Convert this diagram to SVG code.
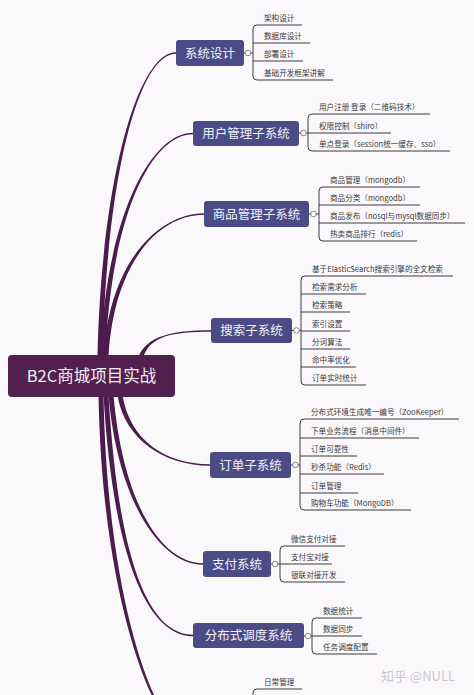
<svg xmlns="http://www.w3.org/2000/svg" width="474" height="695" viewBox="0 0 474 695">
<style>
.bg{fill:#fbf8fb}
.root rect{fill:#51204f}
.root text{fill:#f4eef4;font-family:"Noto Sans CJK SC","Noto Sans",sans-serif;font-size:16.5px;text-anchor:middle}
.br rect{fill:#4b4c86}
.br text.t{fill:#f2f2f8;font-family:"Noto Sans CJK SC","Noto Sans",sans-serif;font-size:12.5px;text-anchor:middle}
.br circle{fill:#ffffff;stroke:#6a6a6a;stroke-width:0.8}
.br path,.br line{fill:none;stroke:#3c3c3c;stroke-width:1}
.lf{fill:#383838;font-family:"Noto Sans CJK SC","Noto Sans",sans-serif;font-size:7.6px}
.con path{fill:#4a1d4c}
.wm{fill:#c9c9cc;font-family:"Noto Sans CJK SC","Noto Sans",sans-serif;font-size:13px}
</style>
<rect class="bg" x="0" y="0" width="474" height="695"/>

<g id="connectors" class="con">
<path d="M97.5,356 C101.5,180 138,52.2 176,52.2 L176,53.8 C138,53.8 106.5,180 102.5,356 Z"/>
<path d="M100.5,356 C105.5,220 150,132.7 193,132.7 L193,134.3 C150,134.3 110.5,220 105.5,356 Z"/>
<path d="M103.5,356 C109.5,260 160,213.2 204,213.2 L204,214.8 C160,214.8 114.5,260 108.5,356 Z"/>
<path d="M138,358 C146,336 172,330.2 211,330.2 L211,331.8 C172,331.8 150,336 143,358 Z"/>
<path d="M117.5,395 C124.5,440 165,465.8 210,465.8 L210,464.2 C165,464.2 129.5,440 122.5,395 Z"/>
<path d="M108.5,395 C117.5,500 160,564.8 203,564.8 L203,563.2 C160,563.2 122.5,500 113.5,395 Z"/>
<path d="M103.5,395 C113.5,565 150,636.3 193,636.3 L193,634.7 C150,634.7 118.5,565 108.5,395 Z"/>
<path d="M98.5,395 C101.5,560 134,660 154,700 L156.5,700 C136.5,660 106.5,560 103.5,395 Z"/>
</g>

<g id="root" class="root">
<rect x="8" y="355" width="167" height="42" rx="4"/>
<text x="91.5" y="382">B2C商城项目实战</text>
</g>

<g id="n1" class="br">
<rect x="176" y="40" width="68" height="26" rx="3"/>
<text class="t" x="210" y="57.5">系统设计</text>
<line x1="244" y1="53" x2="245.2" y2="53"/>
<circle cx="248" cy="53" r="2.8"/>
<line x1="250.8" y1="53" x2="253" y2="53"/>
<path d="M257,25 Q253,25 253,29 L253,76 Q253,80 257,80"/>
<line x1="257" y1="25" x2="302" y2="25"/>
<line x1="253" y1="43" x2="310" y2="43"/>
<line x1="253" y1="61" x2="303" y2="61"/>
<line x1="257" y1="80" x2="333" y2="80"/>
<text class="lf" x="264" y="20.5">架构设计</text>
<text class="lf" x="264" y="38.5">数据库设计</text>
<text class="lf" x="264" y="56.5">部署设计</text>
<text class="lf" x="264" y="75.5">基础开发框架讲解</text>
</g>

<g id="n2" class="br">
<rect x="193" y="121" width="106" height="25" rx="3"/>
<text class="t" x="246" y="138">用户管理子系统</text>
<circle cx="303.5" cy="133" r="2.8"/>
<line x1="299" y1="133" x2="300.7" y2="133"/>
<line x1="306.3" y1="133" x2="308" y2="133"/>
<path d="M312,114 Q308,114 308,118 L308,147 Q308,151 312,151"/>
<line x1="312" y1="114" x2="430" y2="114"/>
<line x1="308" y1="133" x2="391" y2="133"/>
<line x1="312" y1="151" x2="450" y2="151"/>
<text class="lf" x="319" y="109.5">用户注册 登录（二维码技术）</text>
<text class="lf" x="319" y="128.5">权限控制（shiro）</text>
<text class="lf" x="319" y="146.5">单点登录（session统一缓存、sso）</text>
</g>

<g id="n3" class="br">
<rect x="204" y="201" width="105" height="26" rx="3"/>
<text class="t" x="256.5" y="218.5">商品管理子系统</text>
<circle cx="313.5" cy="214" r="2.8"/>
<line x1="309" y1="214" x2="310.7" y2="214"/>
<line x1="316.3" y1="214" x2="319" y2="214"/>
<path d="M323,187 Q319,187 319,191 L319,237 Q319,241 323,241"/>
<line x1="323" y1="187" x2="420" y2="187"/>
<line x1="319" y1="205" x2="420" y2="205"/>
<line x1="319" y1="223" x2="465" y2="223"/>
<line x1="323" y1="241" x2="417" y2="241"/>
<text class="lf" x="330" y="182.5">商品管理（mongodb）</text>
<text class="lf" x="330" y="200.5">商品分类（mongodb）</text>
<text class="lf" x="330" y="218.5">商品发布（nosql与mysql数据同步）</text>
<text class="lf" x="330" y="236.5">热卖商品排行（redis）</text>
</g>

<g id="n4" class="br">
<rect x="211" y="318" width="81" height="25" rx="3"/>
<text class="t" x="251.5" y="335">搜索子系统</text>
<circle cx="296.5" cy="330.5" r="2.8"/>
<line x1="292" y1="330.5" x2="293.7" y2="330.5"/>
<line x1="299.3" y1="330.5" x2="301" y2="330.5"/>
<path d="M305,276 Q301,276 301,280 L301,381 Q301,385 305,385"/>
<line x1="305" y1="276" x2="453" y2="276"/>
<line x1="301" y1="294" x2="366" y2="294"/>
<line x1="301" y1="312" x2="350" y2="312"/>
<line x1="301" y1="331" x2="350" y2="331"/>
<line x1="301" y1="349" x2="350" y2="349"/>
<line x1="301" y1="367" x2="356" y2="367"/>
<line x1="305" y1="385" x2="366" y2="385"/>
<text class="lf" x="312" y="271.5">基于ElasticSearch搜索引擎的全文检索</text>
<text class="lf" x="312" y="289.5">检索需求分析</text>
<text class="lf" x="312" y="307.5">检索策略</text>
<text class="lf" x="312" y="326.5">索引设置</text>
<text class="lf" x="312" y="344.5">分词算法</text>
<text class="lf" x="312" y="362.5">命中率优化</text>
<text class="lf" x="312" y="380.5">订单实时统计</text>
</g>

<g id="n5" class="br">
<rect x="210" y="452" width="81" height="26" rx="3"/>
<text class="t" x="250.5" y="469.5">订单子系统</text>
<circle cx="295.5" cy="465" r="2.8"/>
<line x1="291" y1="465" x2="292.7" y2="465"/>
<line x1="298.3" y1="465" x2="300" y2="465"/>
<path d="M304,419 Q300,419 300,423 L300,506 Q300,510 304,510"/>
<line x1="304" y1="419" x2="459" y2="419"/>
<line x1="300" y1="438" x2="419" y2="438"/>
<line x1="300" y1="456" x2="357" y2="456"/>
<line x1="300" y1="474" x2="384" y2="474"/>
<line x1="300" y1="493" x2="358" y2="493"/>
<line x1="304" y1="510" x2="411" y2="510"/>
<text class="lf" x="311" y="414.5">分布式环境生成唯一编号（ZooKeeper）</text>
<text class="lf" x="311" y="433.5">下单业务流程（消息中间件）</text>
<text class="lf" x="311" y="451.5">订单可靠性</text>
<text class="lf" x="311" y="469.5">秒杀功能（Redis）</text>
<text class="lf" x="311" y="488.5">订单管理</text>
<text class="lf" x="311" y="505.5">购物车功能（MongoDB）</text>
</g>

<g id="n6" class="br">
<rect x="203" y="551" width="68" height="26" rx="3"/>
<text class="t" x="237" y="568.5">支付系统</text>
<circle cx="275" cy="564" r="2.8"/>
<line x1="271" y1="564" x2="272.2" y2="564"/>
<line x1="277.8" y1="564" x2="280" y2="564"/>
<path d="M284,546 Q280,546 280,550 L280,578 Q280,582 284,582"/>
<line x1="284" y1="546" x2="345" y2="546"/>
<line x1="280" y1="564" x2="332" y2="564"/>
<line x1="284" y1="582" x2="345" y2="582"/>
<text class="lf" x="291" y="541.5">微信支付对接</text>
<text class="lf" x="291" y="559.5">支付宝对接</text>
<text class="lf" x="291" y="577.5">银联对接开发</text>
</g>

<g id="n7" class="br">
<rect x="193" y="623" width="111" height="25" rx="3"/>
<text class="t" x="248.5" y="640">分布式调度系统</text>
<circle cx="308" cy="636" r="2.8"/>
<line x1="304" y1="636" x2="305.2" y2="636"/>
<line x1="310.8" y1="636" x2="312" y2="636"/>
<path d="M316,618 Q312,618 312,622 L312,650 Q312,654 316,654"/>
<line x1="316" y1="618" x2="362" y2="618"/>
<line x1="312" y1="636" x2="362" y2="636"/>
<line x1="316" y1="654" x2="377" y2="654"/>
<text class="lf" x="323" y="613.5">数据统计</text>
<text class="lf" x="323" y="631.5">数据同步</text>
<text class="lf" x="323" y="649.5">任务调度配置</text>
</g>

<g id="n8" class="br">
<path d="M302,689 L257,689 Q253,689 253,693 L253,700"/>
<text class="lf" x="264" y="684.5">日常管理</text>
</g>

<text class="wm" x="381" y="681">知乎 @NULL</text>
</svg>
